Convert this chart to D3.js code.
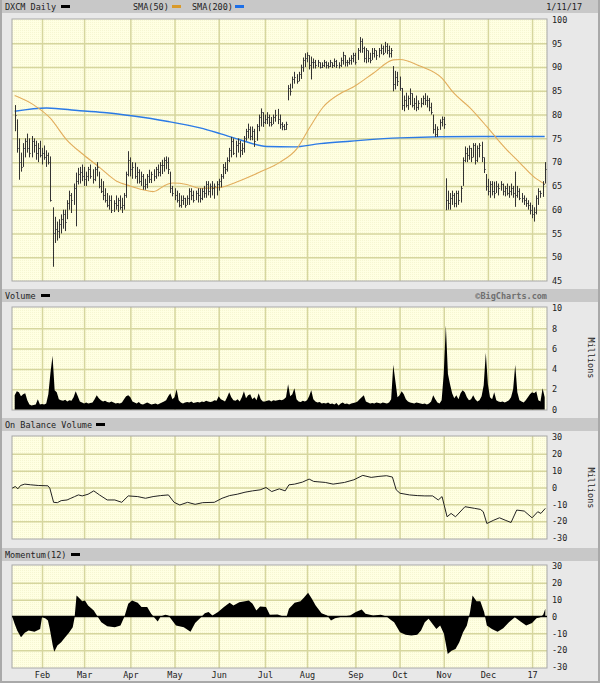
<!DOCTYPE html>
<html>
<head>
<meta charset="utf-8">
<script src="https://cdnjs.cloudflare.com/ajax/libs/d3/7.8.5/d3.min.js"></script>
<style>
body { margin: 0; background: #e8e8e8; }
svg text { font-family: "DejaVu Sans Mono", monospace; font-size: 8.5px; fill: #222; }
</style>
</head>
<body>
<svg id="chart" width="600" height="683"></svg>
<script>
// month gridlines: trading-day index of first session of each month
var monthLabels = ['Feb', 'Mar', 'Apr', 'May', 'Jun', 'Jul', 'Aug', 'Sep', 'Oct', 'Nov', 'Dec', '17'];
var monthDays = [13, 33, 55, 76, 97, 119, 139, 162, 183, 204, 225, 246];

// daily bars, 1/12/16 .. 1/11/17 (one row per month)
var highs = [
    82, 79, 75, 72, 74, 75, 76, 75, 75.5, 75, 74.5, 74, 74.5,
    73, 73.5, 72.5, 72, 71.2, 60.5, 58.5, 57.5, 58, 59, 60, 60, 62, 64, 63.5, 65.5, 67.8, 68.8, 69, 69.5,
    69, 68, 69, 69.5, 68.5, 69, 70, 68, 66.5, 66, 64.5, 63.5, 63, 63, 62, 63, 62.5, 63, 62.5, 63.5, 68, 72.3,
    71, 70, 69.9, 69, 68.5, 68, 67.5, 66.5, 67.5, 68.4, 68, 68.5, 69, 69.5, 70, 70.5, 71, 71.2, 71, 68, 65,
    64.5, 64, 63.5, 63, 63, 62.5, 63, 64.5, 64.5, 64, 64, 64.5, 64.5, 64.5, 65, 66, 66, 65.5, 66, 65.5, 66,
    66.5, 67.5, 69.6, 70, 71, 73, 75.3, 75, 74.5, 75, 74.5, 74, 75.5, 77, 78.1, 77.5, 77.5, 77, 78, 80, 81.3, 80.5,
    80, 80.5, 80, 79.5, 80, 81, 81.2, 80, 78.4, 78, 78.5, 86.2, 86.5, 88, 89, 88.5, 89, 90.5, 92, 92.9,
    93.1, 92.5, 92.2, 91.8, 91.5, 91.5, 91, 91, 91.5, 91.2, 91, 91.5, 91, 91.8, 91.5, 91, 92, 93.2, 92.5, 91.5, 92, 92.5, 93,
    93, 94, 96.3, 96, 94.3, 94, 93.5, 93, 94, 94, 93.5, 94, 94.8, 94.5, 95.3, 95, 94.5, 94, 90.2, 89.2, 89,
    88, 85.6, 84, 84.6, 84, 85.5, 84.5, 83.5, 84, 83, 83.5, 84, 84.5, 84, 83.5, 82.5, 80, 78, 77.5, 79, 79.6,
    79.5, 66.6, 64, 63.5, 64, 63.5, 64, 64, 65, 71, 73.3, 73, 73.5, 73, 74, 74, 73.5, 74, 74.3, 71, 67.5,
    66.5, 66, 66, 65.9, 66, 65.5, 66, 65.5, 65, 65.5, 65, 65.5, 65, 68, 65, 64.5, 63.5, 63, 62.5, 62, 61.5,
    61, 60.5, 63, 64.5, 64, 66, 70
];
var lows = [
    76.5, 72, 66.3, 68, 69, 71, 72, 71, 71, 72, 70.5, 70, 71,
    69.5, 70.5, 69, 69.5, 61.7, 48, 53, 53.5, 54, 55, 56, 55.5, 58, 60, 59.3, 61, 56.5, 65.3, 65.5, 66,
    65, 65, 66, 66.5, 65.5, 66, 67, 64.5, 63.5, 62, 61.5, 60.5, 60, 59.3, 59.5, 60, 59.5, 60, 59.3, 60, 62.5, 67,
    67, 66.5, 66.5, 65.5, 65.5, 65, 64.2, 64.2, 64.5, 65.6, 65.6, 66, 66.5, 67, 67, 67.5, 68, 68.5, 67.5, 63.5, 62.8,
    62, 61.5, 60.5, 60.4, 61, 60.4, 61, 61, 62, 61.5, 62, 61.5, 61.5, 62, 62.5, 62.5, 63, 62.5, 63, 62.3, 63,
    64, 64.7, 66.5, 67.5, 68, 70, 71, 71.5, 71, 72, 71, 71.5, 72, 74.5, 75, 74.6, 74.6, 73.2, 74.5, 76.5, 77.5, 77.4,
    78, 78, 77.5, 77.5, 78, 78.5, 78, 77, 76.7, 76.7, 76.8, 83, 84, 85.5, 86.5, 86.5, 87, 87.5, 89, 90,
    91, 89.5, 87.4, 89.7, 89.7, 90, 89.7, 89.8, 90, 89.7, 89.7, 90, 89.8, 90, 89.8, 89.7, 90, 90.5, 90.1, 90.1, 90.5, 90.5, 91,
    90.5, 91.5, 93, 93, 91, 90.8, 91, 90.8, 91.5, 92, 91.5, 92, 92.7, 92.5, 93, 92.7, 92, 92, 84.9, 85.3, 86,
    85, 81, 80.7, 81.5, 81, 82, 81.5, 81, 80.7, 81, 81.5, 82, 82, 81.5, 80.7, 80, 76, 75.3, 75.3, 76.8, 77.5,
    77, 59.9, 60, 60, 61, 60.5, 60.5, 61, 61.5, 65, 70, 70, 70.5, 70, 71, 69.5, 70, 71, 70, 67.7, 64,
    63, 62.5, 63, 62.4, 63.5, 63, 64, 63, 62.8, 63, 62.5, 63, 62.5, 60.6, 62.5, 62, 61.5, 61, 60.6, 60, 59,
    58.2, 57.5, 59, 61, 62.5, 62.7, 65.5
];
var closes = [
    80, 73, 70, 69, 73, 74.5, 73, 72, 74.5, 73.5, 72, 73, 71.5,
    72, 71, 71.5, 70, 62, 55, 56, 55.5, 57, 58, 59, 57.5, 61.5, 63, 62, 64.5, 66, 67.5, 68, 67,
    66.5, 67, 68.5, 67, 66.5, 68.5, 69, 65, 64, 63, 62, 61, 62, 60, 61.5, 61, 62, 60.5, 61, 63, 67.5, 70.5,
    68.5, 69, 67, 68, 66, 67, 65, 65.5, 67, 66.5, 67.5, 67, 68.5, 68, 69.5, 69.5, 70.5, 70, 68.5, 64.5, 63.5,
    63, 62, 61, 62, 62.5, 61, 62.5, 64, 63, 62, 63.5, 63, 62.5, 64, 63.5, 65.5, 64, 65, 64.5, 65, 65.5,
    66, 67, 69, 68.5, 70.5, 72.5, 74.5, 72, 73.5, 74, 72.5, 73, 75, 76.5, 77, 75.5, 76.5, 74.5, 77.5, 79.5, 80.5, 78.5,
    79, 79.5, 78.5, 78, 79.5, 80, 79, 78, 77.5, 77, 78, 85.5, 85, 87.5, 88, 87, 88.5, 90, 91.5, 92,
    92.5, 90.5, 91, 91, 90.5, 91, 90, 90.5, 91, 90.5, 90.2, 91, 90.5, 91.2, 90.5, 90.5, 91.5, 92.5, 91, 91, 91.5, 92, 92.5,
    91, 93.5, 95.5, 94, 92, 93.5, 92, 91.5, 93, 93.5, 92.5, 93.5, 94, 93, 94.5, 93.5, 93, 93.5, 86.5, 88, 87,
    85.5, 82, 83, 82, 83.5, 84.5, 82, 82.5, 81.5, 82.5, 82.5, 83.5, 83, 83, 81.5, 80.5, 77, 76, 77, 78.5, 79,
    78, 62, 61.5, 62.5, 63, 61.5, 63.5, 62, 64.5, 70.5, 72, 71.5, 73, 71, 73.5, 70.5, 73, 73.5, 71, 68.5, 65,
    64, 65.5, 64, 63.5, 65, 64.5, 65.5, 64, 64.5, 63.5, 64, 64.5, 63.5, 63, 64, 62.5, 62.5, 62, 61.5, 61, 60,
    59, 59.5, 62.5, 64, 63.5, 65.5, 68.5
];

// moving averages at sample days
var sma50Days = [0, 8.8, 16.8, 24.7, 32.6, 40.6, 48.5, 54.8, 61, 65.8, 72.3, 75.3, 81.8, 88.1, 97.6, 107.1, 116.6,
    126.2, 134.1, 140.4, 146.7, 154.7, 161, 170.5, 180, 183.2, 192.7, 203, 208.6, 216.5, 224.4, 229.2, 234, 240.3, 246.6, 252];
var sma50Values = [84, 82.1, 79.3, 74.7, 71.6, 68.8, 66, 65, 64.2, 63.8, 65.3, 65.6, 65.3, 64.5, 64.7, 66.1, 67.9,
    70, 72.8, 77.4, 81.6, 84.4, 85.8, 88.7, 91.5, 91.6, 90.2, 87.7, 84.6, 81.4, 77.5, 75, 72.6, 69.8, 67, 65.4];
var sma200Days = [0, 15.2, 31, 43.7, 56.4, 72.3, 88.1, 97.6, 107.1, 119.8, 132.5, 145.2, 159.4, 183.2, 221.2, 252];
var sma200Values = [80.7, 81.4, 80.8, 80.4, 79.7, 78.6, 77.2, 76, 74.7, 73.3, 73.2, 73.9, 74.4, 75.1, 75.4, 75.4];

// volume, millions
var volumes = [
    1.4, 1.8, 1.7, 1.3, 1.5, 1.6, 0.9, 0.5, 0.4, 0.45, 0.5, 1.0, 0.5,
    0.55, 0.5, 0.6, 1.5, 3.6, 5.3, 1.9, 1.7, 1.0, 0.9, 0.85, 0.95, 0.8, 0.9, 0.85, 1.2, 1.8, 1.3, 0.8, 0.7,
    0.6, 0.7, 0.6, 0.65, 0.7, 1.0, 1.4, 1.1, 0.9, 0.8, 0.85, 0.75, 0.7, 0.8, 0.7, 0.6, 0.65, 0.6, 0.7, 1.0, 1.3, 1.4,
    1.2, 0.8, 0.7, 0.6, 0.75, 0.55, 0.5, 0.6, 0.7, 0.6, 0.5, 0.55, 0.6, 0.5, 0.6, 0.7, 0.8, 0.9, 1.3, 1.6, 1.0,
    1.2, 2.0, 0.9, 0.7, 0.6, 0.7, 0.75, 0.7, 0.8, 0.65, 0.7, 0.75, 0.7, 0.8, 0.75, 0.85, 0.8, 0.75, 0.8, 0.9, 0.85,
    1.3, 1.0, 0.9, 0.8, 1.2, 1.7, 1.2, 0.9, 0.85, 1.0, 0.8, 1.2, 1.8, 1.1, 1.4, 1.5, 1.0, 1.2, 0.9, 1.6, 1.0, 0.8,
    0.8, 0.85, 0.9, 0.8, 0.9, 0.85, 0.9, 0.95, 0.9, 1.0, 1.2, 2.5, 1.3, 1.5, 2.1, 1.0, 0.8, 0.75, 0.85, 0.8,
    0.9, 1.3, 1.9, 1.0, 0.8, 0.7, 0.75, 0.6, 0.65, 0.6, 0.7, 0.55, 0.6, 0.5, 0.65, 0.4, 0.6, 0.7, 0.55, 0.6, 0.5, 0.6, 0.65,
    0.7, 0.8, 1.0, 1.2, 1.4, 0.8, 0.7, 0.6, 0.65, 0.6, 0.7, 0.65, 0.6, 0.7, 0.65, 0.6, 0.7, 1.0, 4.4, 2.8, 1.2,
    1.4, 1.8, 1.5, 1.0, 0.8, 0.7, 0.65, 0.6, 0.7, 0.65, 0.6, 0.55, 0.6, 0.5, 0.6, 0.8, 1.4, 1.0, 0.7, 0.6, 0.9,
    3.5, 8.3, 3.5, 2.5, 1.6, 1.1, 1.4, 1.0, 1.6, 1.9, 1.7, 1.2, 0.9, 1.0, 1.4, 1.0, 0.8, 0.9, 1.3, 2.4, 5.6,
    2.5, 1.2, 1.0, 1.7, 0.9, 0.8, 0.75, 0.8, 0.7, 0.8, 0.9, 1.2, 2.0, 4.4, 1.7, 0.9, 0.8, 0.7, 0.9, 1.2, 1.5,
    1.7, 1.6, 1.8, 0.9, 0.8, 2.1, 1.2
];

// on balance volume, millions
var obvDays = [-1.2, 0.3, 1.5, 2.8, 4.8, 7.6, 11.2, 15.8, 16.7, 18.5, 20.3, 22.1, 24.9, 26.7, 28.5, 30.3, 32.1, 34.9,
    37.6, 40.3, 44, 47.6, 50.9, 54, 58.5, 62.2, 65.8, 69.4, 73.1, 75.8, 78.5, 82.2, 85.8, 89.4, 94.9, 98.6, 102.2,
    105.8, 109.5, 113.1, 116.7, 119.5, 122.2, 125.8, 128.6, 130.4, 133.1, 136.8, 140, 142.2, 147.7, 151.4, 156.8,
    161.3, 165.5, 169.5, 173.2, 176.8, 179.6, 181.4, 183.2, 187.7, 191.4, 195, 198.7, 201.4, 203.2, 205.6, 207.5,
    209.6, 214.1, 218.7, 221.4, 222.8, 224.5, 227.8, 230.5, 233.2, 236, 238.7, 242.3, 246, 248.7, 250.2, 252.3];
var obvValues = [-0.4, 0.6, -0.8, 1.2, 2, 1.6, 1.2, 1, -0.4, -8.8, -9, -7.8, -7.4, -6.4, -5.4, -4.4, -5, -4,
    -2, -4.4, -7.4, -7.4, -8.8, -5, -5.4, -6.4, -5.4, -4.8, -4.4, -8.8, -10.4, -8.8, -10, -9, -8.8, -6.4, -4.8,
    -4, -2.8, -2, -1.4, 0, -2.4, -0.8, -2, 1.6, 2, 3.2, 5, 3.6, 3, 2, 3,
    4.6, 7.2, 6, 6.6, 7, 6.2, -1.4, -3.4, -4.4, -4.8, -5, -5, -7.4, -5.4, -17.4, -15.4,
    -17.4, -11.4, -12.4, -13, -14.4, -21.4, -19.4, -18, -19.4, -20.8, -13.4, -14, -18, -14.4, -15.4, -12.4];

// momentum(12)
var momDays = [-1.2, 0, 1.2, 3, 4.8, 6.6, 9.4, 12.1, 13, 14.5, 15.8, 16.7, 18.1, 18.8, 20.3, 22.1, 24, 25.8, 27.6,
    28.5, 29.4, 30.3, 32.1, 33.4, 34.9, 37.6, 39.4, 41.2, 44, 47.6, 50.3, 52.2, 54, 55.8, 58.5, 60.3, 63, 64.9,
    66.7, 68, 69.4, 71.6, 73.1, 74.9, 76.7, 80.4, 83.6, 85.8, 88.6, 90.4, 92.2, 94, 96.7, 99.5, 102.2, 104, 106.8,
    109.5, 111.3, 113.1, 114.9, 116.7, 119.5, 121.3, 125, 127.7, 129.2, 130.4, 133.1, 135.9, 137.7, 139.5, 141.3,
    143.1, 145.9, 148.6, 150.4, 152.3, 155.9, 159.5, 162.2, 165, 166.8, 170.4, 174.1, 176.8, 178.6, 180.4, 183.2,
    185.9, 188.6, 191.4, 193.2, 195, 196.8, 198.7, 200.5, 202.3, 204.1, 205.9, 207.7, 209.6, 211.4, 213.2, 215,
    216.5, 217.7, 219.6, 221.4, 223.2, 224.5, 226.9, 229.6, 232.3, 235, 237.8, 240.5, 243.2, 246, 248.1, 249.9,
    251.3, 252.3];
var momValues = [0, -4.4, -8.3, -12.3, -9.7, -8.3, -9, -7.4, -0.4, -1, -2.4, -7.4, -17.3, -20.9, -17.3, -15.3, -12.3, -9.7, -6.4,
    -0.4, 12.5, 11.5, 9, 9.5, 6.6, 3.6, 0, -3.4, -5.8, -6.4, -5.4, 0, 7.6, 9.5, 8.2, 5.6, 5.6, 1.6,
    -1, -3, 0, 1, 0.6, -2.4, -5.4, -6.4, -9, -3.8, -0.4, 2, 2.6, 0.6, 2.6, 5.6, 8.2, 6.6, 8.5,
    9, 9.5, 7.6, 3.6, 6, 5.6, 1, 1.2, 0, -0.4, 4.6, 8.2, 9, 11.5, 14.1, 10.5,
    6.6, 2, 0.6, -2.4, -1, 0, 0.6, 2.6, 4.2, 1.6, 0.6, 1, 0, -1.8, -3.4, -9.3,
    -10.9, -11.3, -10.9, -8.3, -3.4, -1.4, -4.4, -7.4, -5.4, -10.3, -22.3, -20.3, -19.3, -15.3, -9.3, -5.4,
    2.6, 12.5, 9, 9, 2.6, -5.4, -7.4, -9, -7, -3.4, -0.4, -3, -5.4, -3.8, -1, -0.4,
    1, 4.6];

var priceTicks = [45, 50, 55, 60, 65, 70, 75, 80, 85, 90, 95, 100];
var volumeTicks = [0, 2, 4, 6, 8, 10];
var oscTicks = [-30, -20, -10, 0, 10, 20, 30];

var plot_left = 12;
var plot_right = 547;
var grid_color = '#d6d69e';

var svg = d3.select('#chart');
var x = d3.scaleLinear().domain([-1.28, 253.1]).range([plot_left, plot_right]);

var yPrice = d3.scaleLinear().domain([45, 100]).range([281, 19.5]);
var yVolume = d3.scaleLinear().domain([0, 10]).range([409.5, 308]);
var yObv = d3.scaleLinear().domain([-30, 30]).range([538, 437]);
var yMom = d3.scaleLinear().domain([-30, 30]).range([667, 566]);

// faint dither like the original plot fill
var pat = svg.append('defs').append('pattern')
    .attr('id', 'dither')
    .attr('width', 2)
    .attr('height', 2)
    .attr('patternUnits', 'userSpaceOnUse');
pat.append('rect').attr('width', 2).attr('height', 2).attr('fill', '#ffffe2');
pat.append('rect').attr('width', 1).attr('height', 1).attr('fill', '#f6f6d2');

// frame
svg.append('rect')
    .attr('width', 600)
    .attr('height', 683)
    .attr('fill', '#e8e8e8');
svg.append('rect')
    .attr('x', 1)
    .attr('y', 1)
    .attr('width', 598)
    .attr('height', 681)
    .attr('fill', 'none')
    .attr('stroke', '#a9a9a9')
    .attr('stroke-width', 2);

function header_band(y, label, swatch_x, swatch_color) {
    svg.append('rect')
        .attr('x', 2)
        .attr('y', y)
        .attr('width', 596)
        .attr('height', 13)
        .attr('fill', '#c8c8c8');
    svg.append('text')
        .attr('x', 5)
        .attr('y', y + 9.5)
        .text(label);
    svg.append('rect')
        .attr('x', swatch_x)
        .attr('y', y + 5)
        .attr('width', 9)
        .attr('height', 3)
        .attr('fill', swatch_color);
}

function add_panel(name, y, top, bottom, grid_values, tick_values) {
    var g = svg.append('g').attr('class', name);

    g.append('clipPath')
        .attr('id', 'clip-' + name)
        .append('rect')
        .attr('x', plot_left)
        .attr('y', top)
        .attr('width', plot_right - plot_left)
        .attr('height', bottom - top);

    g.append('rect')
        .attr('x', plot_left)
        .attr('y', top)
        .attr('width', plot_right - plot_left)
        .attr('height', bottom - top)
        .attr('fill', 'url(#dither)');

    // horizontal grid
    g.append('g')
        .attr('class', 'grid')
        .attr('transform', 'translate(' + plot_left + ',0)')
        .call(d3.axisRight(y).tickValues(grid_values).tickSize(plot_right - plot_left).tickFormat(''));

    // vertical month grid
    g.append('g')
        .attr('class', 'grid')
        .attr('transform', 'translate(0,' + bottom + ')')
        .call(d3.axisBottom(x).tickValues(monthDays).tickSize(top - bottom).tickFormat(''));

    g.selectAll('.grid .domain').remove();
    g.selectAll('.grid line')
        .attr('stroke', grid_color)
        .attr('stroke-width', 1.5);

    g.append('rect')
        .attr('x', plot_left)
        .attr('y', top)
        .attr('width', plot_right - plot_left)
        .attr('height', bottom - top)
        .attr('fill', 'none')
        .attr('stroke', '#a8a8a8')
        .attr('stroke-width', 1);

    // value labels on the right
    var ax = g.append('g')
        .attr('transform', 'translate(' + (plot_right + 1) + ',0)')
        .call(d3.axisRight(y).tickValues(tick_values).tickSize(0).tickPadding(4)
            .tickFormat(function (d) { return String(d); }));
    ax.select('.domain').remove();
    ax.selectAll('text')
        .attr('fill', '#222')
        .style('font-family', '"DejaVu Sans Mono", monospace')
        .style('font-size', '8.5px');

    return g.append('g').attr('clip-path', 'url(#clip-' + name + ')');
}

// headers
header_band(0, 'DXCM Daily', 61, '#000');
svg.append('text').attr('x', 133).attr('y', 9.5).text('SMA(50)');
svg.append('rect').attr('x', 172).attr('y', 5).attr('width', 9).attr('height', 3).attr('fill', '#d99a2b');
svg.append('text').attr('x', 192).attr('y', 9.5).text('SMA(200)');
svg.append('rect').attr('x', 235).attr('y', 5).attr('width', 9).attr('height', 3).attr('fill', '#1c6fe8');
svg.append('text').attr('x', 582).attr('y', 9.5).attr('text-anchor', 'end').text('1/11/17');

header_band(289, 'Volume', 41, '#000');
svg.append('text')
    .attr('x', 547)
    .attr('y', 298.5)
    .attr('text-anchor', 'end')
    .style('font-weight', 'bold')
    .style('fill', '#6f6f6f')
    .text('\u00a9BigCharts.com');
header_band(418, 'On Balance Volume', 96, '#000');
header_band(548, 'Momentum(12)', 71, '#000');

// price panel
var price = add_panel('price', yPrice, 19, 281, [50, 55, 60, 65, 70, 75, 80, 85, 90, 95], priceTicks);

var sma_line = function (days, values, y) {
    return d3.line()
        .x(function (d, i) { return x(days[i]); })
        .y(function (d, i) { return y(values[i]); })
        .curve(d3.curveMonotoneX)(days);
};

price.append('path')
    .attr('d', sma_line(sma200Days, sma200Values, yPrice))
    .attr('fill', 'none')
    .attr('stroke', '#2b7ae6')
    .attr('stroke-width', 1.4);

price.append('path')
    .attr('d', sma_line(sma50Days, sma50Values, yPrice))
    .attr('fill', 'none')
    .attr('stroke', '#e2ad5c')
    .attr('stroke-width', 1.1);

var bars = price.append('g').attr('stroke', '#333').attr('stroke-width', 1);
bars.selectAll('line.hl')
    .data(highs)
    .join('line')
    .attr('class', 'hl')
    .attr('x1', function (d, i) { return Math.round(x(i)) + 0.5; })
    .attr('x2', function (d, i) { return Math.round(x(i)) + 0.5; })
    .attr('y1', function (d) { return yPrice(d); })
    .attr('y2', function (d, i) { return yPrice(lows[i]); });
bars.selectAll('line.cl')
    .data(closes)
    .join('line')
    .attr('class', 'cl')
    .attr('stroke', '#777')
    .attr('x1', function (d, i) { return Math.round(x(i)) + 1; })
    .attr('x2', function (d, i) { return Math.round(x(i)) + 2; })
    .attr('y1', function (d) { return Math.round(yPrice(d)) + 0.5; })
    .attr('y2', function (d) { return Math.round(yPrice(d)) + 0.5; });

// volume panel
var vol = add_panel('volume', yVolume, 307, 410, [2, 4, 6, 8], volumeTicks);
vol.append('path')
    .attr('d', d3.area()
        .x(function (d, i) { return x(i); })
        .y0(yVolume(0))
        .y1(function (d) { return yVolume(d); })(volumes))
    .attr('fill', '#000');

// on balance volume panel
var obv = add_panel('obv', yObv, 436, 539, [-20, -10, 0, 10, 20], oscTicks);
obv.append('path')
    .attr('d', d3.line()
        .x(function (d, i) { return x(obvDays[i]); })
        .y(function (d) { return yObv(d); })(obvValues))
    .attr('fill', 'none')
    .attr('stroke', '#222')
    .attr('stroke-width', 1);

// momentum panel
var mom = add_panel('momentum', yMom, 565, 668, [-20, -10, 10, 20], oscTicks);
mom.append('path')
    .attr('d', d3.area()
        .x(function (d, i) { return x(momDays[i]); })
        .y0(yMom(0))
        .y1(function (d) { return yMom(d); })(momValues))
    .attr('fill', '#000');
mom.append('line')
    .attr('x1', plot_left)
    .attr('x2', plot_right)
    .attr('y1', yMom(0))
    .attr('y2', yMom(0))
    .attr('stroke', '#000')
    .attr('stroke-width', 1.5);

// month labels along the bottom
var months = svg.append('g')
    .attr('transform', 'translate(0,668)')
    .call(d3.axisBottom(x).tickValues(monthDays).tickSize(0).tickPadding(4)
        .tickFormat(function (d, i) { return monthLabels[i]; }));
months.select('.domain').remove();
months.selectAll('text')
    .attr('fill', '#222')
    .style('font-family', '"DejaVu Sans Mono", monospace')
    .style('font-size', '8.5px');

// units
[358, 488].forEach(function (cy) {
    svg.append('text')
        .attr('transform', 'translate(588,' + cy + ') rotate(90)')
        .attr('text-anchor', 'middle')
        .text('Millions');
});
</script>
</body>
</html>
